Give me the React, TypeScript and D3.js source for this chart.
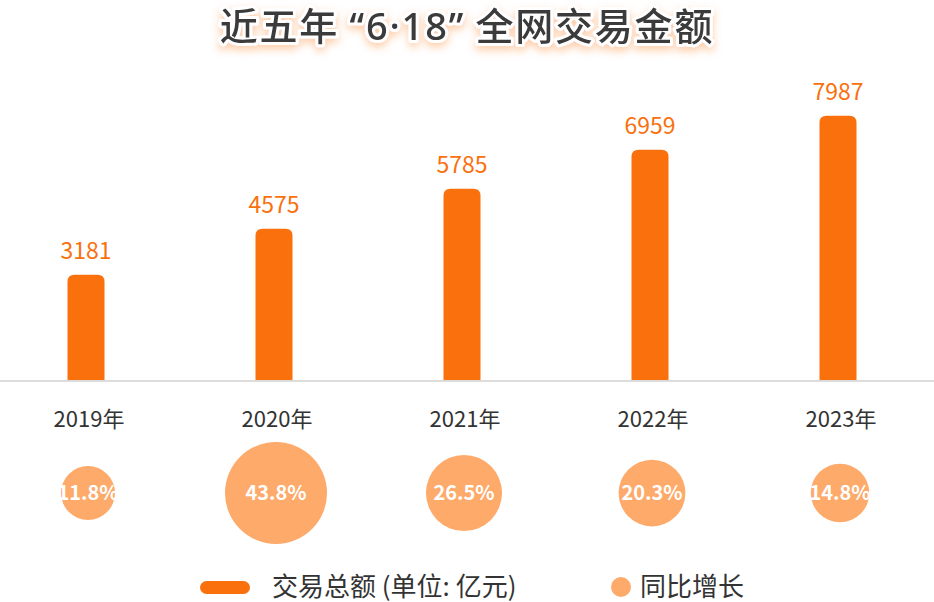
import React from "react";
import * as d3 from "d3";

const years = ["2019年", "2020年", "2021年", "2022年", "2023年"];
const amounts = [3181, 4575, 5785, 6959, 7987];
const growth = [11.8, 43.8, 26.5, 20.3, 14.8];
const titleParts = ["近五年 ", "“6·18”", " 全网交易金额"];
const legendBar = "交易总额 (单位: 亿元)";
const legendCircle = "同比增长";

const W = 934;
const H = 602;
const FONT = "'Noto Sans CJK SC', 'Noto Sans', sans-serif";
const LATIN = "'Noto Sans', 'Noto Sans CJK SC', sans-serif";
const BAR = "#F9700D";
const CIRCLE = "#FDAA6A";

export default function App() {
  const x = d3.scaleBand<string>().domain(years).range([-8, 932]).padding(0);
  const y = d3.scaleLinear().domain([0, 10000]).range([380, 49.2]);
  const r = d3.scaleLinear().domain([11.8, 43.8]).range([27, 51]);
  const barW = 37;
  const rx = 7;
  const barPath = (cx: number, top: number, bottom: number) => {
    const l = cx - barW / 2;
    const rr = l + barW;
    const p = d3.path();
    p.moveTo(l, bottom);
    p.lineTo(l, top + rx);
    p.quadraticCurveTo(l, top, l + rx, top);
    p.lineTo(rr - rx, top);
    p.quadraticCurveTo(rr, top, rr, top + rx);
    p.lineTo(rr, bottom);
    p.closePath();
    return p.toString();
  };
  const cx = (d: string) => (x(d) as number) + x.bandwidth() / 2;
  return (
    <svg
      width={W}
      height={H}
      style={{ position: "absolute", left: 0, top: 0, fontFamily: FONT }}
    >
      <defs>
        <filter id="tshadow" x="-10%" y="-60%" width="120%" height="220%">
          <feDropShadow dx="0" dy="4" stdDeviation="4" floodColor="#F9700D" floodOpacity="0.35" />
        </filter>
      </defs>
      <rect width={W} height={H} fill="#fff" />
      <text
        x={W / 2}
        y={40}
        textAnchor="middle"
        fontSize={38}
        fontWeight={500}
        letterSpacing={1.8}
        fill="#3a3a3a"
        stroke="#fff"
        strokeWidth={6}
        strokeLinejoin="round"
        paintOrder="stroke"
        filter="url(#tshadow)"
      >
        <tspan>{titleParts[0]}</tspan>
        <tspan fontFamily={LATIN}>{titleParts[1]}</tspan>
        <tspan>{titleParts[2]}</tspan>
      </text>
      {years.map((d, i) => (
        <g key={d}>
          <path d={barPath(cx(d), y(amounts[i]), y(0))} fill={BAR} />
          <text
            x={cx(d)}
            y={y(amounts[i]) - 16}
            textAnchor="middle"
            fontSize={23}
            fill={BAR}
          >
            {amounts[i]}
          </text>
          <text
            x={cx(d) + 3}
            y={427}
            textAnchor="middle"
            fontSize={22}
            fill="#333"
          >
            {d}
          </text>
          <circle cx={cx(d) + 2} cy={493} r={r(growth[i])} fill={CIRCLE} />
          <text
            x={cx(d) + 2}
            y={493}
            dy="0.36em"
            textAnchor="middle"
            fontSize={20}
            fontWeight={700}
            fill="#fff"
          >
            {growth[i].toFixed(1) + "%"}
          </text>
        </g>
      ))}
      <line x1={0} x2={W} y1={381} y2={381} stroke="#dcdcdc" strokeWidth={2} />
      <g>
        <rect x={200} y={581} width={50} height={13} rx={6.5} fill={BAR} />
        <text x={272} y={596} fontSize={26} fill="#333">
          {legendBar}
        </text>
        <circle cx={621} cy={587} r={10} fill={CIRCLE} />
        <text x={640} y={596} fontSize={26} fill="#333">
          {legendCircle}
        </text>
      </g>
    </svg>
  );
}
